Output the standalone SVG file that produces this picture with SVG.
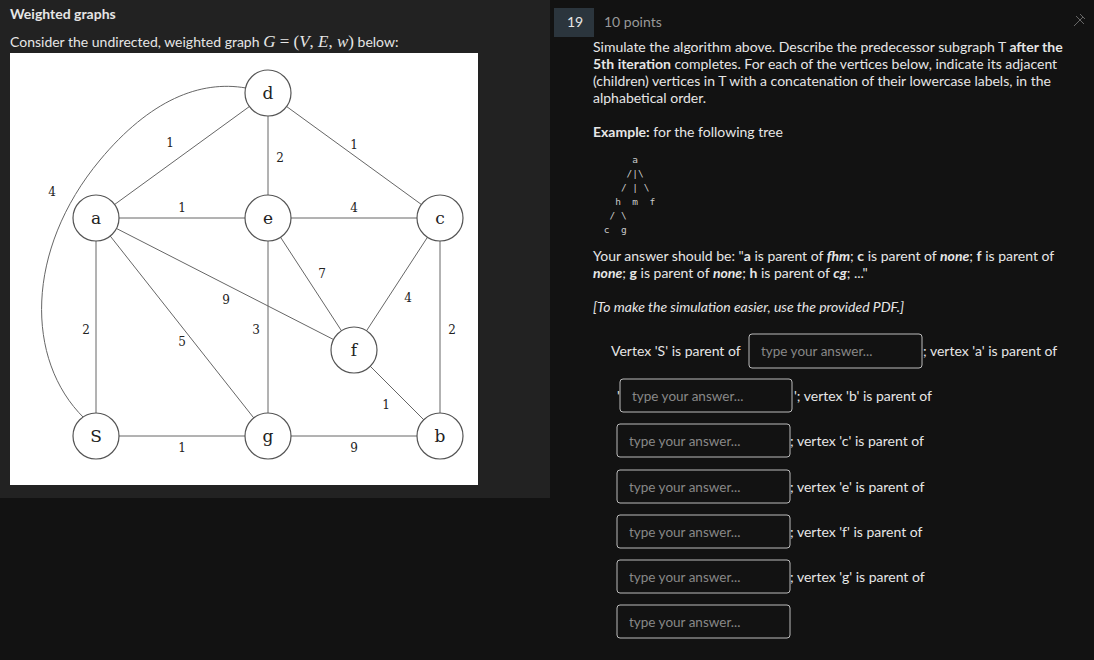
<svg xmlns="http://www.w3.org/2000/svg" width="1094" height="660" viewBox="0 0 1094 660">
<style>
.ui{font-family:Lato,"Open Sans",sans-serif;fill:#e6e6e6;font-size:14px}
.b{font-weight:bold}
.m{font-family:"Liberation Serif",serif;font-size:17px}
.i{font-style:italic}
.n circle{fill:#fff;stroke:#555;stroke-width:1.2}
.n text{font-family:"DejaVu Serif","Liberation Serif",serif;font-size:17px;fill:#222;text-anchor:middle}
.w{font-family:"DejaVu Serif","Liberation Serif",serif;font-size:12px;fill:#222;text-anchor:middle}
.e line,.e path{stroke:#666;stroke-width:1;fill:none}
.box{fill:#121212;stroke:#bbb;stroke-width:1}
.ph{font-family:Lato,sans-serif;font-size:13.5px;fill:#888}
.mono{font-family:"DejaVu Sans Mono",monospace;font-size:9.5px;fill:#ccc;white-space:pre}
</style>
<rect width="1094" height="660" fill="#121212"/>
<rect x="0" y="0" width="550" height="498" fill="#222"/>
<text class="ui b" x="10" y="19">Weighted graphs</text>
<text class="ui" x="10" y="47">Consider the undirected, weighted graph <tspan class="m i">G</tspan><tspan class="m"> = (</tspan><tspan class="m i">V</tspan><tspan class="m">, </tspan><tspan class="m i">E</tspan><tspan class="m">, </tspan><tspan class="m i">w</tspan><tspan class="m">)</tspan> below:</text>
<rect x="10" y="53" width="468" height="432" fill="#fff"/>
<g class="e" id="edges">
<path d="M84,418 C25,360 25,250 100,160 C150,100 200,80 246,88"/>
<line x1="96" y1="218" x2="268" y2="93"/>
<line x1="268" y1="93" x2="268" y2="436"/>
<line x1="268" y1="93" x2="440" y2="218"/>
<line x1="96" y1="218" x2="440" y2="218"/>
<line x1="96" y1="218" x2="96" y2="436"/>
<line x1="96" y1="218" x2="268" y2="436"/>
<line x1="96" y1="218" x2="354" y2="350"/>
<line x1="268" y1="218" x2="354" y2="350"/>
<line x1="440" y1="218" x2="354" y2="350"/>
<line x1="440" y1="218" x2="440" y2="436"/>
<line x1="354" y1="350" x2="440" y2="436"/>
<line x1="96" y1="436" x2="440" y2="436"/>
</g>
<g id="weights">
<text class="w" x="52" y="196">4</text>
<text class="w" x="170" y="147">1</text>
<text class="w" x="280" y="162">2</text>
<text class="w" x="354" y="149">1</text>
<text class="w" x="182" y="212">1</text>
<text class="w" x="354" y="212">4</text>
<text class="w" x="86" y="334">2</text>
<text class="w" x="182" y="346">5</text>
<text class="w" x="226" y="304">9</text>
<text class="w" x="256" y="334">3</text>
<text class="w" x="322" y="278">7</text>
<text class="w" x="408" y="302">4</text>
<text class="w" x="452" y="334">2</text>
<text class="w" x="386" y="409">1</text>
<text class="w" x="182" y="452">1</text>
<text class="w" x="354" y="452">9</text>
</g>
<g class="n" id="d"><circle cx="268" cy="93" r="23"/><text x="268" y="99">d</text></g>
<g class="n" id="a"><circle cx="96" cy="218" r="23"/><text x="96" y="224">a</text></g>
<g class="n" id="e"><circle cx="268" cy="218" r="23"/><text x="268" y="224">e</text></g>
<g class="n" id="c"><circle cx="440" cy="218" r="23"/><text x="440" y="224">c</text></g>
<g class="n" id="f"><circle cx="354" cy="350" r="23"/><text x="354" y="356">f</text></g>
<g class="n" id="S"><circle cx="96" cy="436" r="23"/><text x="96" y="442">S</text></g>
<g class="n" id="g"><circle cx="268" cy="436" r="23"/><text x="268" y="442">g</text></g>
<g class="n" id="b"><circle cx="440" cy="436" r="23"/><text x="440" y="442">b</text></g>
<rect x="554" y="8" width="40" height="29" fill="#2b353d"/>
<text class="ui" x="575" y="27" text-anchor="middle">19</text>
<text class="ui" x="604" y="27" style="fill:#999" font-size="13">10 points</text>
<path d="M1074,26 l6,-6 m-4,-4 l8,8 m-6,-2 l5,-5 m-3,-3 l5,5" stroke="#666" fill="none"/>
<text class="ui" x="593" y="52">Simulate the algorithm above. Describe the predecessor subgraph T <tspan class="b">after the</tspan></text>
<text class="ui" x="593" y="69"><tspan class="b">5th iteration</tspan> completes. For each of the vertices below, indicate its adjacent</text>
<text class="ui" x="593" y="86">(children) vertices in T with a concatenation of their lowercase labels, in the</text>
<text class="ui" x="593" y="103">alphabetical order.</text>
<text class="ui" x="593" y="137"><tspan class="b">Example:</tspan> for the following tree</text>
<text class="mono" x="598" y="163" xml:space="preserve">      a</text>
<text class="mono" x="598" y="177" xml:space="preserve">     /|\</text>
<text class="mono" x="598" y="191" xml:space="preserve">    / | \</text>
<text class="mono" x="598" y="205" xml:space="preserve">   h  m  f</text>
<text class="mono" x="598" y="219" xml:space="preserve">  / \</text>
<text class="mono" x="598" y="233" xml:space="preserve"> c  g</text>
<text class="ui" x="593" y="261">Your answer should be: "<tspan class="b">a</tspan> is parent of <tspan class="b i">fhm</tspan>; <tspan class="b">c</tspan> is parent of <tspan class="b i">none</tspan>; <tspan class="b">f</tspan> is parent of</text>
<text class="ui" x="593" y="278"><tspan class="b i">none</tspan>; <tspan class="b">g</tspan> is parent of <tspan class="b i">none</tspan>; <tspan class="b">h</tspan> is parent of <tspan class="b i">cg</tspan>; ..."</text>
<text class="ui i" x="593" y="312">[To make the simulation easier, use the provided PDF.]</text>
<text class="ui" x="611" y="356">Vertex 'S' is parent of</text>
<rect class="box" x="749" y="334" width="173" height="34" rx="3"/>
<text class="ph" x="761" y="356">type your answer...</text>
<text class="ui" x="923" y="356">; vertex 'a' is parent of</text>
<text class="ui" x="617" y="401">'</text>
<rect class="box" x="620" y="379" width="172" height="33" rx="3"/>
<text class="ph" x="632" y="401">type your answer...</text>
<text class="ui" x="794" y="401">'; vertex 'b' is parent of</text>
<rect class="box" x="617" y="424" width="173" height="33" rx="3"/>
<text class="ph" x="629" y="446">type your answer...</text>
<text class="ui" x="790" y="446">; vertex 'c' is parent of</text>
<rect class="box" x="617" y="470" width="173" height="33" rx="3"/>
<text class="ph" x="629" y="492">type your answer...</text>
<text class="ui" x="790" y="492">; vertex 'e' is parent of</text>
<rect class="box" x="617" y="515" width="173" height="33" rx="3"/>
<text class="ph" x="629" y="537">type your answer...</text>
<text class="ui" x="790" y="537">; vertex 'f' is parent of</text>
<rect class="box" x="617" y="560" width="173" height="33" rx="3"/>
<text class="ph" x="629" y="582">type your answer...</text>
<text class="ui" x="790" y="582">; vertex 'g' is parent of</text>
<rect class="box" x="617" y="605" width="173" height="33" rx="3"/>
<text class="ph" x="629" y="627">type your answer...</text>
</svg>
